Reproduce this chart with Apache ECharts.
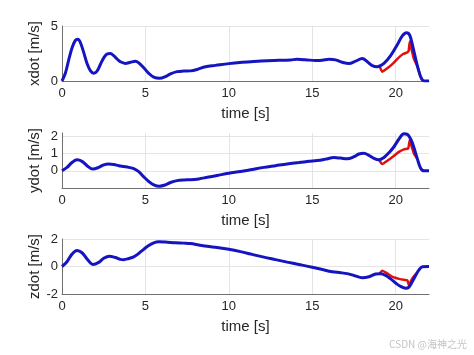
<!DOCTYPE html>
<html><head><meta charset="utf-8">
<script src="https://cdn.jsdelivr.net/npm/echarts@6/dist/echarts.min.js"></script>
<style>html,body{margin:0;padding:0;background:#fff}#c{width:474px;height:355px}</style>
</head><body><div id="c"></div>
<script>
// x velocity
const xdotT = [0,0.2,0.4,0.6,0.8,0.95,1.1,1.3,1.5,1.7,1.9,2.1,2.3,2.5,2.7,2.9,3.1,3.3,3.5,3.8,4.1,4.4,4.6,4.9,5.2,5.5,5.85,6.2,6.5,6.9,7.3,7.7,8.1,8.6,9.2,10,10.8,11.5,12.3,13,13.7,14.1,14.6,15.2,15.6,16,16.4,16.8,17.2,17.6,18,18.3,18.6,18.9,19.3,19.7,20.1,20.4,20.65,20.85,21.05,21.25,21.45,21.6,21.75,22];
const xdotV = [0,0.7,1.9,3.0,3.7,3.8,3.5,2.6,1.6,0.95,0.7,0.9,1.5,2.1,2.45,2.5,2.3,2.0,1.75,1.6,1.7,1.8,1.65,1.2,0.7,0.35,0.25,0.4,0.65,0.85,0.9,0.92,1.05,1.3,1.42,1.58,1.7,1.78,1.85,1.88,1.92,1.97,1.93,1.86,1.88,1.97,1.92,1.7,1.58,1.8,2.05,1.75,1.4,1.3,1.6,2.3,3.3,4.1,4.38,4.15,3.0,1.7,0.6,0.1,0,0];
const xdotRedT = [19.05,19.2,19.5,19.85,20.2,20.45,20.7,20.78,20.85,20.95,21.1,21.3,21.45];
const xdotRedV = [1.3,0.85,1.15,1.6,2.15,2.45,2.6,2.75,3.6,2.9,2.0,1.35,0.6];
// y velocity
const ydotT = [0,0.3,0.6,0.9,1.2,1.5,1.85,2.2,2.5,2.8,3.1,3.4,3.7,4.0,4.3,4.6,4.9,5.2,5.5,5.85,6.2,6.5,6.9,7.3,7.7,8.2,8.7,9.3,10,10.7,11.4,12.1,12.8,13.5,14.2,14.8,15.3,15.8,16.3,16.7,17.1,17.5,17.8,18.1,18.4,18.7,19.0,19.3,19.6,19.9,20.2,20.5,20.7,20.9,21.1,21.3,21.5,21.7,22];
const ydotV = [0,0.2,0.48,0.64,0.55,0.3,0.1,0.2,0.35,0.4,0.37,0.3,0.25,0.2,0.13,-0.05,-0.35,-0.62,-0.82,-0.9,-0.82,-0.68,-0.57,-0.53,-0.52,-0.47,-0.38,-0.27,-0.14,-0.04,0.08,0.2,0.3,0.4,0.48,0.55,0.6,0.68,0.77,0.74,0.7,0.82,0.98,1.02,0.9,0.72,0.64,0.78,1.05,1.4,1.85,2.15,2.12,1.85,1.35,0.7,0.15,0,0];
const ydotRedT = [19.0,19.2,19.5,19.85,20.2,20.5,20.75,20.85,20.95,21.1,21.3];
const ydotRedV = [0.64,0.39,0.58,0.83,1.1,1.25,1.3,1.8,1.45,1.0,0.7];
// z velocity
const zdotT = [0,0.3,0.6,0.9,1.2,1.5,1.85,2.2,2.5,2.85,3.2,3.5,3.7,4.0,4.3,4.6,4.9,5.2,5.5,5.8,6.2,6.8,7.3,7.7,8.2,8.7,9.3,10,10.7,11.4,12.1,12.8,13.5,14.2,15,15.6,16.2,16.7,17.1,17.5,18,18.4,18.8,19.1,19.4,19.7,20,20.3,20.6,20.8,21,21.2,21.4,21.6,22];
const zdotV = [0,0.35,0.9,1.16,1.0,0.55,0.15,0.3,0.6,0.75,0.65,0.52,0.5,0.58,0.7,0.95,1.25,1.52,1.72,1.8,1.78,1.73,1.7,1.67,1.57,1.47,1.38,1.25,1.08,0.88,0.68,0.5,0.32,0.15,-0.05,-0.22,-0.38,-0.45,-0.52,-0.65,-0.82,-0.75,-0.55,-0.52,-0.65,-0.9,-1.2,-1.45,-1.58,-1.5,-1.1,-0.65,-0.25,-0.02,0];
const zdotRedT = [19.05,19.2,19.5,19.85,20.2,20.5,20.7,20.8,20.9,21.05,21.25];
const zdotRedV = [-0.5,-0.3,-0.5,-0.78,-0.9,-0.97,-1.0,-1.38,-1.1,-0.78,-0.5];
// axes
const xTitle = 'time [s]';
const yTitles = ['xdot [m/s]','ydot [m/s]','zdot [m/s]'];
const yMins = [0,-1,-2];
const yMaxs = [5,2.2,2];
const yIntervals = [5,1,2];

const zip = (t,v)=>t.map((x,i)=>[x,v[i]]);
const FONT = 'Liberation Sans';
const tops = [26,133,239];
const grid = tops.map(t=>({left:62,right:45,top:t,height:55}));
const xAxis = tops.map((t,i)=>({
  type:'value',gridIndex:i,min:0,max:22,interval:5,
  name:xTitle,nameLocation:'middle',nameGap:25,
  nameTextStyle:{fontSize:15,color:'#262626',fontFamily:FONT},
  axisLine:{show:true,onZero:false,lineStyle:{color:'#707070',width:1}},
  axisTick:{show:false},
  axisLabel:{fontSize:13,color:'#262626',fontFamily:FONT,margin:6,showMaxLabel:false},
  splitLine:{show:true,showMaxLine:false,lineStyle:{color:'#e4e4e4',width:1}}
}));
const yAxis = tops.map((t,i)=>({
  type:'value',gridIndex:i,min:yMins[i],max:yMaxs[i],interval:yIntervals[i],
  name:yTitles[i],nameLocation:'middle',nameGap:20,nameMoveOverlap:false,
  nameTextStyle:{fontSize:15,color:'#262626',fontFamily:FONT},
  axisLine:{show:true,onZero:false,lineStyle:{color:'#707070',width:1}},
  axisTick:{show:false},
  axisLabel:{fontSize:13,color:'#262626',fontFamily:FONT,margin:4,
    showMinLabel:i!==1,showMaxLabel:i!==1},
  splitLine:{show:true,showMaxLine:i!==1,lineStyle:{color:'#e4e4e4',width:1}}
}));
const red = '#e01010', blue = '#1414c0';
const mk = (i,data,color,w,sm,z)=>({type:'line',xAxisIndex:i,yAxisIndex:i,data,showSymbol:false,
  smooth:sm,lineStyle:{color,width:w},itemStyle:{color},z,animation:false});
const series = [
  mk(0,zip(xdotRedT,xdotRedV),red,2.5,0.15,2),
  mk(0,zip(xdotT,xdotV),blue,3,0.35,3),
  mk(1,zip(ydotRedT,ydotRedV),red,2.5,0.15,2),
  mk(1,zip(ydotT,ydotV),blue,3,0.35,3),
  mk(2,zip(zdotRedT,zdotRedV),red,2.5,0.15,2),
  mk(2,zip(zdotT,zdotV),blue,3,0.35,3)
];
const chart = echarts.init(document.getElementById('c'),null,{renderer:'canvas'});
chart.setOption({
  animation:false,backgroundColor:'#fff',
  grid,xAxis,yAxis,series,
  graphic:[{type:'text',right:7,bottom:6,style:{text:'CSDN @海神之光',fill:'#c4c4c4',font:'10px "Noto Sans CJK SC"'}}]
});
</script></body></html>
